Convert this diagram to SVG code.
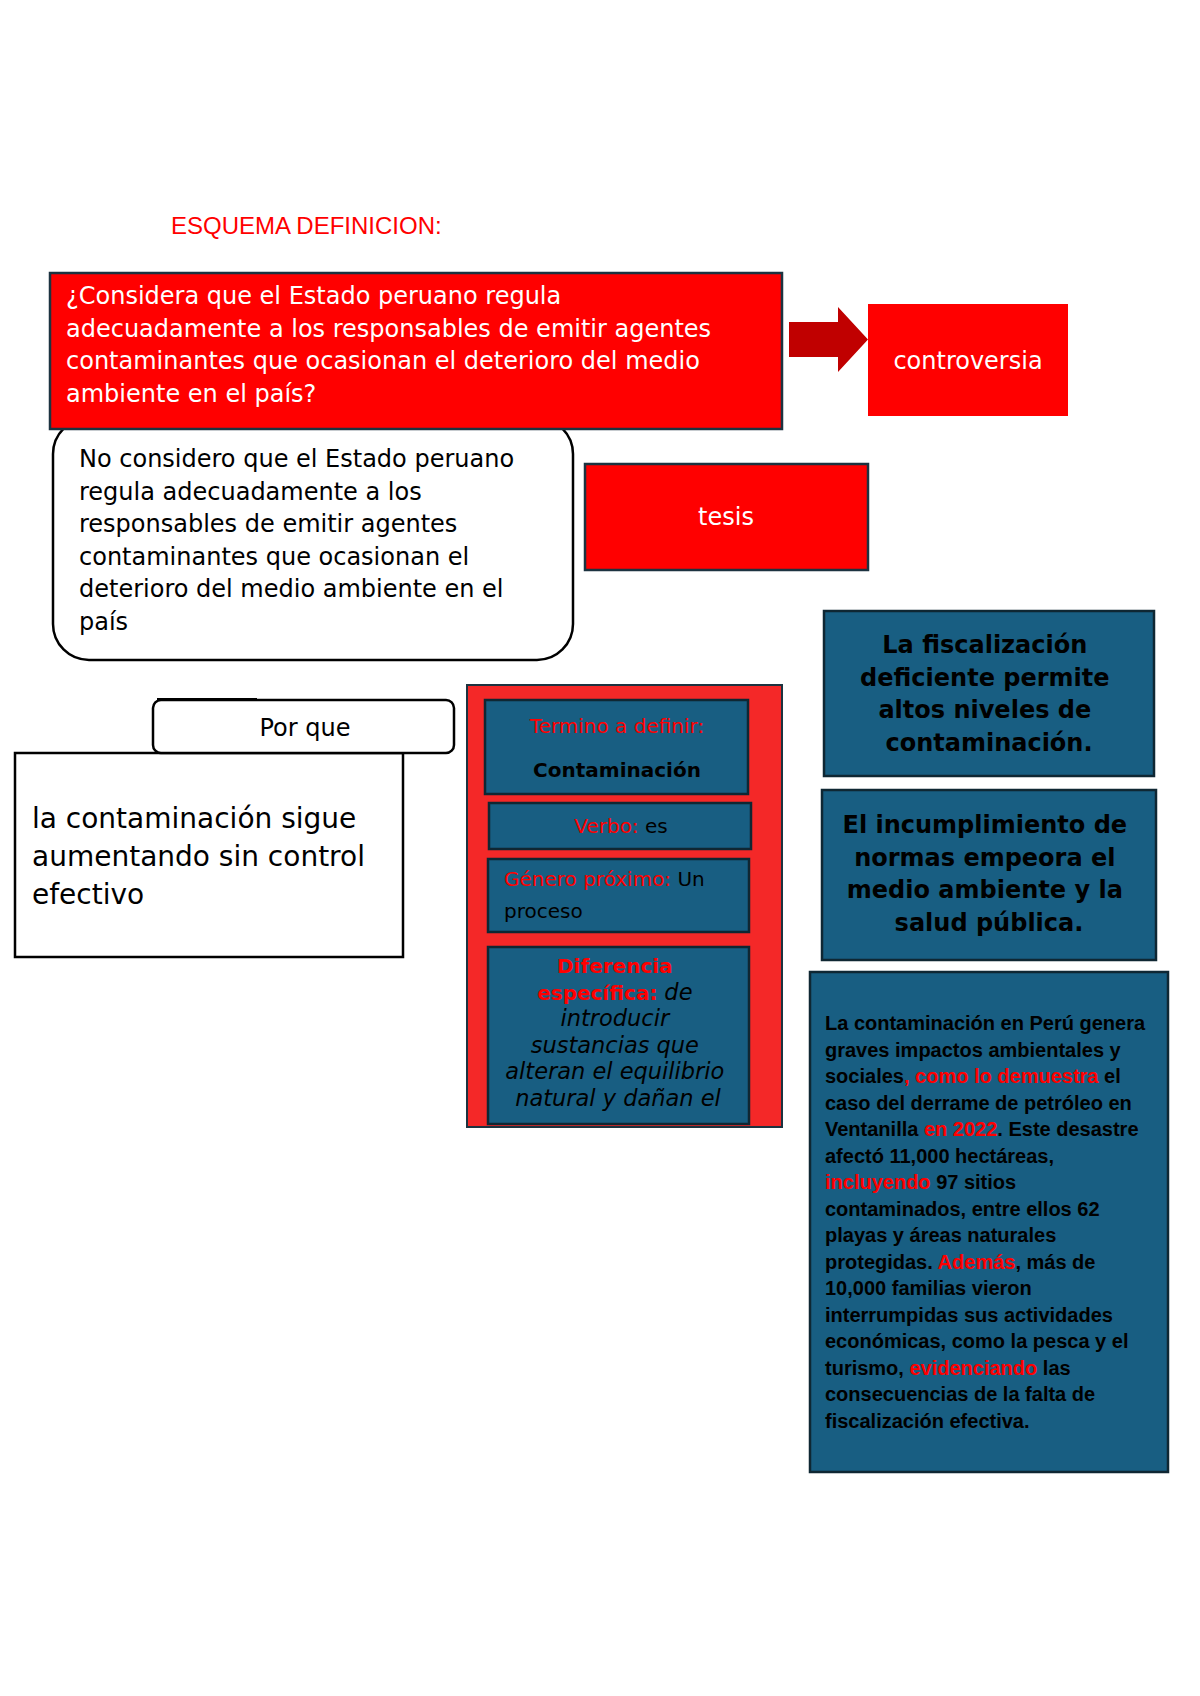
<svg xmlns="http://www.w3.org/2000/svg" width="1200" height="1696" viewBox="0 0 1200 1696">
<style>
.red{fill:#FF0000;stroke:#1c3340;stroke-width:2.5}
.blue{fill:#185E82;stroke:#0f2733;stroke-width:2.5}
.wbox{fill:#FFFFFF;stroke:#000000;stroke-width:2.5}
.dv{font-family:"DejaVu Sans","Noto Sans",sans-serif}
.wt{fill:#FFFFFF;font-size:24px}
.bk{fill:#000000}
.rt{fill:#FF0000}
.lt{font-size:20px;font-weight:normal}
.it{fill:#000000;font-style:italic;font-size:22.5px}
.bold24{font-family:"DejaVu Sans",sans-serif;font-weight:bold;font-size:24px;fill:#000;text-anchor:middle}
.para{font-family:"Liberation Sans",Arial,sans-serif;font-weight:bold;font-size:20px;fill:#000}
</style>
<rect width="1200" height="1696" fill="#FFFFFF"/>
<text x="171" y="234" font-family="Liberation Sans, Arial, sans-serif" font-size="24" fill="#FF0000">ESQUEMA DEFINICION:</text>

<g id="tesis-text-node">
<rect class="wbox" x="53" y="418" width="520" height="242" rx="36" ry="36"/>
<text class="dv bk" font-size="24">
<tspan x="79" y="467">No considero que el Estado peruano</tspan>
<tspan x="79" y="499.5">regula adecuadamente a los</tspan>
<tspan x="79" y="532">responsables de emitir agentes</tspan>
<tspan x="79" y="564.5">contaminantes que ocasionan el</tspan>
<tspan x="79" y="597">deterioro del medio ambiente en el</tspan>
<tspan x="79" y="629.5">país</tspan>
</text>
</g>

<g id="question">
<rect class="red" x="50" y="273" width="732" height="156"/>
<text class="dv wt">
<tspan x="66" y="304">¿Considera que el Estado peruano regula</tspan>
<tspan x="66" y="336.5">adecuadamente a los responsables de emitir agentes</tspan>
<tspan x="66" y="369">contaminantes que ocasionan el deterioro del medio</tspan>
<tspan x="66" y="401.5">ambiente en el país?</tspan>
</text>
</g>

<g id="connectors">
<polygon points="789,322 838,322 838,307 868,339.5 838,372 838,357 789,357" fill="#C00000"/>
</g>

<g id="controversia">
<rect x="868" y="304" width="200" height="112" fill="#FF0000"/>
<text class="dv wt" x="968" y="368.5" text-anchor="middle">controversia</text>
</g>

<g id="tesis">
<rect class="red" x="585" y="464" width="283" height="106"/>
<text class="dv wt" x="726" y="525" text-anchor="middle">tesis</text>
</g>

<g id="razon">
<rect class="wbox" x="15" y="753" width="388" height="204"/>
<text class="dv bk" font-size="28">
<tspan x="32" y="828">la contaminación sigue</tspan>
<tspan x="32" y="866">aumentando sin control</tspan>
<tspan x="32" y="904">efectivo</tspan>
</text>
</g>

<g id="porque">
<rect class="wbox" x="153" y="700" width="301" height="53" rx="8" ry="8"/>
<line x1="157" y1="699.5" x2="257" y2="699.5" stroke="#000" stroke-width="3"/>
<text class="dv bk" font-size="24" x="305" y="736" text-anchor="middle">Por que</text>
</g>

<g id="definicion">
<rect x="467" y="685" width="315" height="442" fill="#F42828" stroke="#1c3340" stroke-width="2"/>
<rect class="blue" x="485" y="700" width="263" height="94"/>
<text class="dv rt lt" x="617" y="733" text-anchor="middle">Termino a definir:</text>
<text class="dv bk" font-size="20" font-weight="bold" x="617" y="777" text-anchor="middle">Contaminación</text>
<rect class="blue" x="489" y="803" width="262" height="46"/>
<text class="dv lt" x="621" y="833" text-anchor="middle"><tspan class="rt">Verbo:</tspan><tspan class="bk"> es</tspan></text>
<rect class="blue" x="488" y="859" width="261" height="73"/>
<text class="dv lt"><tspan x="504" y="886"><tspan class="rt">Género próximo:</tspan><tspan class="bk"> Un</tspan></tspan><tspan class="bk" x="504" y="918">proceso</tspan></text>
<rect class="blue" x="488" y="947" width="261" height="177"/>
<text class="dv" font-size="20" text-anchor="middle">
<tspan class="rt" font-weight="bold" x="618" y="973">Diferencia</tspan>
<tspan x="618" y="999.5"><tspan class="rt" font-weight="bold">específica: </tspan><tspan class="it">de</tspan></tspan>
<tspan class="it" x="618" y="1026">introducir</tspan>
<tspan class="it" x="618" y="1052.5">sustancias que</tspan>
<tspan class="it" x="618" y="1079">alteran el equilibrio</tspan>
<tspan class="it" x="618" y="1105.5">natural y dañan el</tspan>
</text>
</g>

<g id="argumento1">
<rect class="blue" x="824" y="611" width="330" height="165"/>
<text class="bold24">
<tspan x="989" y="653">La fiscalización</tspan>
<tspan x="989" y="685.5">deficiente permite</tspan>
<tspan x="989" y="718">altos niveles de</tspan>
<tspan x="989" y="750.5">contaminación.</tspan>
</text>
</g>

<g id="argumento2">
<rect class="blue" x="822" y="790" width="334" height="170"/>
<text class="bold24">
<tspan x="989" y="833">El incumplimiento de</tspan>
<tspan x="989" y="865.5">normas empeora el</tspan>
<tspan x="989" y="898">medio ambiente y la</tspan>
<tspan x="989" y="930.5">salud pública.</tspan>
</text>
</g>

<g id="evidencia">
<rect class="blue" x="810" y="972" width="358" height="500"/>
<text class="para">
<tspan x="825" y="1030">La contaminación en Perú genera</tspan>
<tspan x="825" y="1056.5">graves impactos ambientales y</tspan>
<tspan x="825" y="1083">sociales<tspan fill="#FF0000">, como lo demuestra</tspan> el</tspan>
<tspan x="825" y="1109.5">caso del derrame de petróleo en</tspan>
<tspan x="825" y="1136">Ventanilla <tspan fill="#FF0000">en 2022</tspan>. Este desastre</tspan>
<tspan x="825" y="1162.5">afectó 11,000 hectáreas,</tspan>
<tspan x="825" y="1189"><tspan fill="#FF0000">incluyendo</tspan> 97 sitios</tspan>
<tspan x="825" y="1215.5">contaminados, entre ellos 62</tspan>
<tspan x="825" y="1242">playas y áreas naturales</tspan>
<tspan x="825" y="1268.5">protegidas. <tspan fill="#FF0000">Además</tspan>, más de</tspan>
<tspan x="825" y="1295">10,000 familias vieron</tspan>
<tspan x="825" y="1321.5">interrumpidas sus actividades</tspan>
<tspan x="825" y="1348">económicas, como la pesca y el</tspan>
<tspan x="825" y="1374.5">turismo, <tspan fill="#FF0000">evidenciando</tspan> las</tspan>
<tspan x="825" y="1401">consecuencias de la falta de</tspan>
<tspan x="825" y="1427.5">fiscalización efectiva.</tspan>
</text>
</g>
</svg>
